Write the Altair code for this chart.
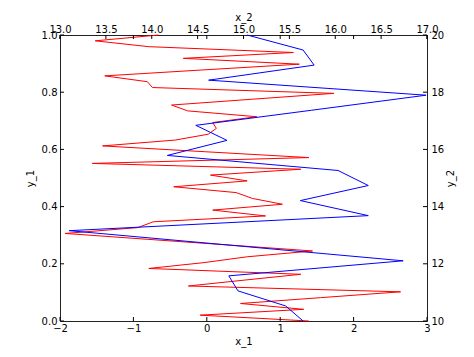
import altair as alt
import pandas as pd

# Red series (x_1 / y_1), listed from top (y=1) to bottom (y=0)
red_x = [-0.66, -1.52, -0.79, 1.18, -0.32, 1.26, -0.07, -1.39, -0.81, -0.74,
         1.73, 0.62, -0.48, -0.26, 0.68, 0.08, 0.13, 0.02, -0.43, -1.42,
         -0.02, 1.39, -1.56, 1.28, 0.05, 0.55, -0.45, 0.40, 0.62, 1.03,
         0.08, 0.80, -0.73, -0.94, -1.93, -0.81, 0.32, 1.44, 0.55, -0.04,
         -0.79, 1.28, 0.51, -0.25, 2.64, 1.55, 0.46, 1.32, -0.09, 1.39]
red_y = [1.0, 0.9796, 0.9592, 0.9388, 0.9184, 0.898, 0.8776, 0.8571, 0.8367, 0.8163,
         0.7959, 0.7755, 0.7551, 0.7347, 0.7143, 0.6939, 0.6735, 0.6531, 0.6327, 0.6122,
         0.5918, 0.5714, 0.551, 0.5306, 0.5102, 0.4898, 0.4694, 0.449, 0.4286, 0.4082,
         0.3878, 0.3673, 0.3469, 0.3265, 0.3061, 0.2857, 0.2653, 0.2449, 0.2245, 0.2041,
         0.1837, 0.1633, 0.1429, 0.1224, 0.102, 0.0816, 0.0612, 0.0408, 0.0204, 0.0]

# Blue series (x_2 / y_2), listed from top (y=20) to bottom (y=10)
blue_x = [15.04, 15.65, 15.77, 14.62, 16.99, 15.74, 14.48, 14.82, 14.17, 16.03,
          16.36, 15.62, 16.36, 13.10, 14.92, 16.74, 14.84, 14.94, 15.46, 15.65]
blue_y = [20.0, 19.474, 18.947, 18.421, 17.895, 17.368, 16.842, 16.316, 15.789, 15.263,
          14.737, 14.211, 13.684, 13.158, 12.632, 12.105, 11.579, 11.053, 10.526, 10.0]

x1_ticks = [-2, -1, 0, 1, 2, 3]
y1_ticks = [0.0, 0.2, 0.4, 0.6, 0.8, 1.0]
x2_ticks = [13.0, 13.5, 14.0, 14.5, 15.0, 15.5, 16.0, 16.5, 17.0]
y2_ticks = [10, 12, 14, 16, 18, 20]

W, H = 367, 286
TL = 4
FONT = "DejaVu Sans"
FS = 10

red_df = pd.DataFrame({"x": red_x, "y": red_y, "i": range(len(red_x))})
blue_df = pd.DataFrame({"x": blue_x, "y": blue_y, "i": range(len(blue_x))})
x1_df = pd.DataFrame({"t": x1_ticks})
y1_df = pd.DataFrame({"t": y1_ticks})
x2_df = pd.DataFrame({"t": x2_ticks})
y2_df = pd.DataFrame({"t": y2_ticks})

common = dict(grid=False, ticks=False, domainColor="#222222", domainWidth=1,
              labelFont=FONT, labelFontSize=FS, labelColor="black",
              titleFont=FONT, titleFontSize=FS, titleFontWeight="normal",
              titleColor="black", labelOverlap=False, labelFlush=False)

ax_x1 = alt.Axis(orient="bottom", values=x1_ticks, format="d", title="x_1",
                 labelExpr="replace(datum.label, '-', '\u2212')",
                 labelPadding=2, titlePadding=3, **common)
ax_y1 = alt.Axis(orient="left", values=y1_ticks, format=".1f", title="y_1",
                 labelPadding=3, titlePadding=6, **common)
ax_x2 = alt.Axis(orient="top", values=x2_ticks, format=".1f", title="x_2",
                 labelPadding=1, titlePadding=2, **common)
ax_y2 = alt.Axis(orient="right", values=y2_ticks, format="d", title="y_2",
                 labelPadding=4, titlePadding=12, titleAngle=270, **common)

sx1 = alt.Scale(domain=[-2, 3], nice=False, zero=False)
sy1 = alt.Scale(domain=[0, 1], nice=False, zero=False)
sx2 = alt.Scale(domain=[13, 17], nice=False, zero=False)
sy2 = alt.Scale(domain=[10, 20], nice=False, zero=False)

X1 = lambda f: alt.X(f, type="quantitative", scale=sx1, axis=ax_x1)
Y1 = lambda f: alt.Y(f, type="quantitative", scale=sy1, axis=ax_y1)
X2 = lambda f: alt.X(f, type="quantitative", scale=sx2, axis=ax_x2)
Y2 = lambda f: alt.Y(f, type="quantitative", scale=sy2, axis=ax_y2)

red = alt.Chart(red_df).mark_line(color="#ff0000", strokeWidth=1).encode(
    x=X1("x"), y=Y1("y"), order="i:Q")
x1_bot = alt.Chart(x1_df).mark_rule(color="black").encode(
    x=X1("t"), y=alt.value(H), y2=alt.value(H - TL))
x1_top = alt.Chart(x1_df).mark_rule(color="black").encode(
    x=X1("t"), y=alt.value(0), y2=alt.value(TL))
y1_left = alt.Chart(y1_df).mark_rule(color="black").encode(
    y=Y1("t"), x=alt.value(0), x2=alt.value(TL))

blue = alt.Chart(blue_df).mark_line(color="#0000ff", strokeWidth=1).encode(
    x=X2("x"), y=Y2("y"), order="i:Q")
x2_top = alt.Chart(x2_df).mark_rule(color="black").encode(
    x=X2("t"), y=alt.value(0), y2=alt.value(TL))
y2_right = alt.Chart(y2_df).mark_rule(color="black").encode(
    y=Y2("t"), x=alt.value(W), x2=alt.value(W - TL))

g1 = alt.layer(red, x1_bot, x1_top, y1_left)
g2 = alt.layer(blue, x2_top, y2_right)

chart = alt.layer(g1, g2).resolve_scale(x="independent", y="independent").properties(
    width=W, height=H,
    autosize=alt.AutoSizeParams(type="none"),
    padding={"left": 60, "top": 35, "right": 474 - 60 - W, "bottom": 357 - 35 - H},
    background="white",
).configure_view(stroke=None)

chart.save("out.html", embed_options={"renderer": "svg", "actions": False})
